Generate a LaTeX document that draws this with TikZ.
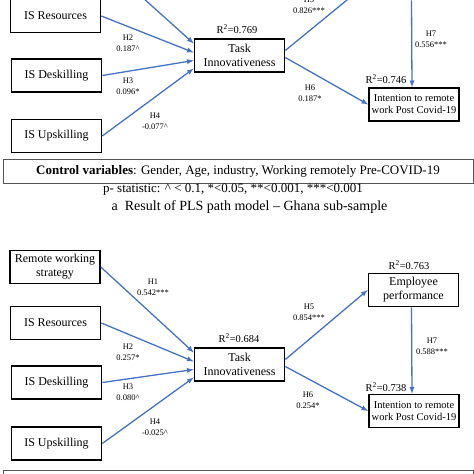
\documentclass[tikz,border=0pt]{standalone}
\usepackage{fontspec}
\setmainfont{Liberation Serif}
\usepackage{tikz}
\usetikzlibrary{positioning}
\usetikzlibrary{shapes,arrows}
\definecolor{lineblue}{RGB}{68,114,196}
\definecolor{notegray}{RGB}{85,85,85}
\newcommand{\caret}{\textasciicircum}

\begin{document}
\begin{tikzpicture}[x=1pt,y=-1pt]
\tikzstyle{construct}=[rectangle, minimum width=90pt, minimum height=33pt, inner sep=1pt, line width=1.6pt, draw=black, align=center, font=\fontsize{12}{14}\selectfont]
\tikzstyle{outcome}=[construct, font=\fontsize{10.5}{12}\selectfont]
\tikzstyle{coef}=[align=center, inner sep=0pt, font=\fontsize{8.5}{11}\selectfont]
\tikzstyle{rsq}=[inner sep=0pt, font=\fontsize{10.5}{12}\selectfont]
\tikzstyle{note}=[rectangle, minimum width=470pt, minimum height=24pt, line width=1pt, draw=notegray, font=\fontsize{13}{15}\selectfont]
\tikzstyle{connect}=[-latex, line width=1.3pt, draw=lineblue]
\useasboundingbox (0,0) rectangle (474,474);
\clip (0,0) rectangle (474,474);
% a: Ghana sub-sample
	\node[construct] (s_1) at (55,-40) {};
	\node[construct] (x_1) at (55.5,16) {IS Resources};
	\node[construct] (x_2) at (56.5,75.5) {IS Deskilling};
	\node[construct] (x_3) at (56.5,136) {IS Upskilling};
	\node[construct] (t_1) at (239.5,55.5) {Task\\Innovativeness};
	\node[construct] (p_1) at (413.5,-17) {};
	\node[outcome] (i_1) at (414,104.5) {Intention to remote\\work Post Covid-19};

	\node[rsq] (r_1) at (237,29) {R\textsuperscript{2}=0.769};
	\node[rsq] (r_2) at (386,79) {R\textsuperscript{2}=0.746};
	\node[coef] (h_2) at (128,43) {H2\\0.187\caret};
	\node[coef] (h_3) at (128,86.5) {H3\\0.096*};
	\node[coef] (h_4) at (155,121) {H4\\-0.077\caret};
	\node[coef] (h_5) at (309,5) {H5\\0.826***};
	\node[coef] (h_6) at (310,93.5) {H6\\0.187*};
	\node[coef] (h_7) at (431,39.5) {H7\\0.556***};

	\node[note] (c_1) at (238,171) {\textbf{Control variables}: Gender, Age, industry, Working remotely Pre-COVID-19};
	\node[font=\fontsize{13}{15}\selectfont] (k_1) at (233,190) {p- statistic: \caret{} < 0.1, *<0.05, **<0.001, ***<0.001};
	\node[font=\fontsize{14}{16}\selectfont] (a_1) at (249.5,207) {a\enspace Result of PLS path model -- Ghana sub-sample};

	\path
		(s_1.east) edge [connect] ([yshift=12pt]t_1.west)
		(x_1.east) edge [connect] ([yshift=3pt]t_1.west)
		(x_2.east) edge [connect] ([yshift=-5pt]t_1.west)
		(x_3.east) edge [connect] ([yshift=-13pt]t_1.west)
		([yshift=5pt]t_1.east) edge [connect] (p_1.west)
		([yshift=-2pt]t_1.east) edge [connect] (i_1.west)
		([xshift=-2pt]p_1.south) edge [connect] ([xshift=-2pt]i_1.north);

% b
	\node[construct] (s_2) at (55,267) {Remote working\\strategy};
	\node[construct] (x_4) at (55.5,323) {IS Resources};
	\node[construct] (x_5) at (56.5,382.5) {IS Deskilling};
	\node[construct] (x_6) at (56.5,443.5) {IS Upskilling};
	\node[construct] (t_2) at (239.5,364.5) {Task\\Innovativeness};
	\node[construct] (p_2) at (413.5,290) {Employee\\performance};
	\node[outcome] (i_2) at (414,411) {Intention to remote\\work Post Covid-19};

	\node[rsq] (r_3) at (239,338) {R\textsuperscript{2}=0.684};
	\node[rsq] (r_4) at (409,265) {R\textsuperscript{2}=0.763};
	\node[rsq] (r_5) at (386,387) {R\textsuperscript{2}=0.738};
	\node[coef] (h_8) at (153,287.5) {H1\\0.542***};
	\node[coef] (h_9) at (128,352.5) {H2\\0.257*};
	\node[coef] (h_10) at (128,392.5) {H3\\0.080\caret};
	\node[coef] (h_11) at (155,427.5) {H4\\-0.025\caret};
	\node[coef] (h_12) at (309,312) {H5\\0.854***};
	\node[coef] (h_13) at (308,400.5) {H6\\0.254*};
	\node[coef] (h_14) at (432,346.5) {H7\\0.588***};

	\node[note] (c_2) at (238,482) {};

	\path
		(s_2.east) edge [connect] ([yshift=12pt]t_2.west)
		(x_4.east) edge [connect] ([yshift=3pt]t_2.west)
		(x_5.east) edge [connect] ([yshift=-5pt]t_2.west)
		(x_6.east) edge [connect] ([yshift=-13pt]t_2.west)
		([yshift=5pt]t_2.east) edge [connect] (p_2.west)
		([yshift=-2pt]t_2.east) edge [connect] (i_2.west)
		([xshift=-2pt]p_2.south) edge [connect] ([xshift=-2pt]i_2.north);
\end{tikzpicture}
\end{document}
